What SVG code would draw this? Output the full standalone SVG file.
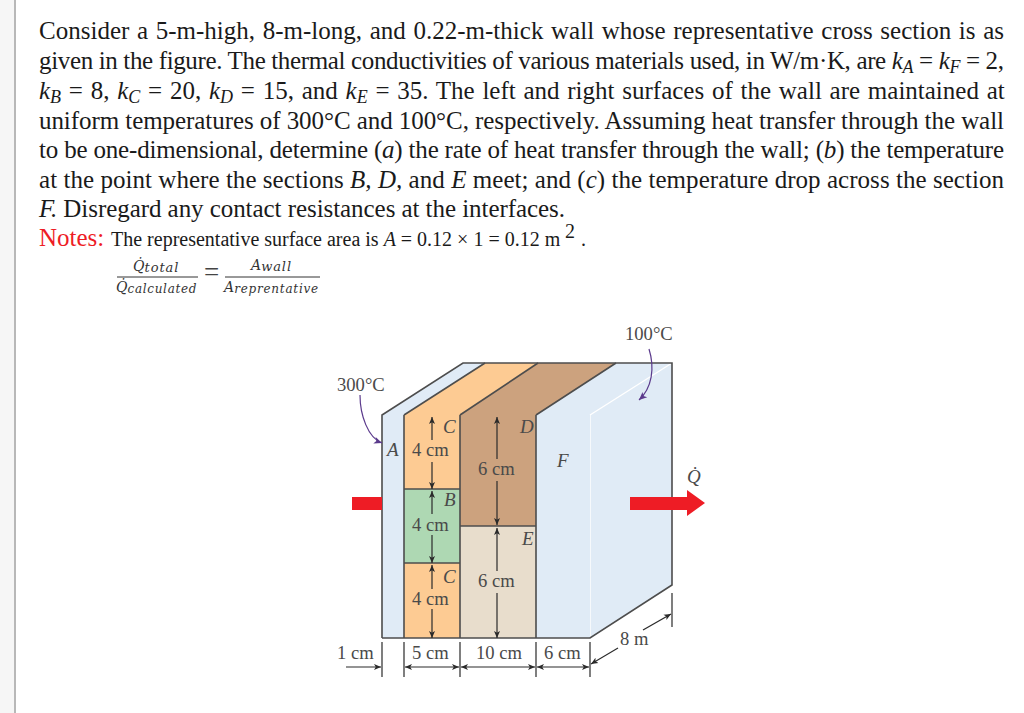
<svg xmlns="http://www.w3.org/2000/svg" width="1024" height="713" viewBox="0 0 1024 713">
<defs>
<marker id="ah" markerWidth="8" markerHeight="8" refX="7" refY="3.5" orient="auto-start-reverse" markerUnits="userSpaceOnUse"><path d="M0,0.5 L7,3.5 L0,6.5 L1.8,3.5 Z" fill="#2a2a2a"/></marker>
<marker id="pa" markerWidth="9" markerHeight="9" refX="8" refY="4" orient="auto" markerUnits="userSpaceOnUse"><path d="M0,0.5 L8,4 L0,7.5 L2,4 Z" fill="#5b3a8c"/></marker>
</defs>
<style>
text{font-family:"Liberation Serif","Times New Roman",serif}
.p{font-size:25px;fill:#1a1a1a}
.i{font-style:italic}
.s{font-size:18px}
.n{font-size:20px;fill:#1a1a1a}
.m{font-family:"DejaVu Serif",serif;font-style:italic;fill:#333}
.l{font-size:18.6px;fill:#4a4a4a}
.t{font-size:19px;font-style:italic;fill:#4a4a4a}
.e{stroke:#4d4d4d;stroke-width:1.6;fill:none}
.d{stroke:#2a2a2a;stroke-width:1.2;fill:none}
.a{stroke:#2a2a2a;stroke-width:1.2;fill:none;marker-start:url(#ah);marker-end:url(#ah)}
.o{stroke:#2a2a2a;stroke-width:1.2;fill:none;marker-end:url(#ah)}
.c{stroke:#5b3a8c;stroke-width:1.2;fill:none;marker-end:url(#pa)}
</style>
<rect width="1024" height="713" fill="#ffffff"/>
<rect x="0" y="0" width="14" height="713" fill="#f6f6f6"/>
<rect x="14" y="0" width="2" height="713" fill="#b8b8b8"/>
<g id="problem-text">
<text class="p" x="39" y="39" word-spacing="1.3" textLength="965">Consider a 5-m-high, 8-m-long, and 0.22-m-thick wall whose representative cross section is as</text>
<text class="p" x="39" y="69" textLength="965">given in the figure. The thermal conductivities of various materials used, in W/m·K, are <tspan class="i">k</tspan><tspan class="i s" dy="4">A</tspan><tspan dy="-4"> = </tspan><tspan class="i">k</tspan><tspan class="i s" dy="4">F</tspan><tspan dy="-4"> = 2,</tspan></text>
<text class="p" x="39" y="99" word-spacing="1.5"><tspan class="i">k</tspan><tspan class="i s" dy="4">B</tspan><tspan dy="-4"> = 8, </tspan><tspan class="i">k</tspan><tspan class="i s" dy="4">C</tspan><tspan dy="-4"> = 20, </tspan><tspan class="i">k</tspan><tspan class="i s" dy="4">D</tspan><tspan dy="-4"> = 15, and </tspan><tspan class="i">k</tspan><tspan class="i s" dy="4">E</tspan><tspan dy="-4"> = 35. The left and right surfaces of the wall are maintained at</tspan></text>
<text class="p" x="39" y="129" textLength="965">uniform temperatures of 300°C and 100°C, respectively. Assuming heat transfer through the wall</text>
<text class="p" x="39" y="158" textLength="965">to be one-dimensional, determine (<tspan class="i">a</tspan>) the rate of heat transfer through the wall; (<tspan class="i">b</tspan>) the temperature</text>
<text class="p" x="39" y="188" textLength="965">at the point where the sections <tspan class="i">B, D,</tspan> and <tspan class="i">E</tspan> meet; and (<tspan class="i">c</tspan>) the temperature drop across the section</text>
<text class="p" x="39" y="217" textLength="526"><tspan class="i">F.</tspan> Disregard any contact resistances at the interfaces.</text>
<text x="39" y="246" font-size="25" fill="#ee1c25">Notes:</text>
<text class="n" x="111" y="246">The representative surface area is <tspan class="i">A</tspan> = 0.12 × 1 = 0.12 m</text>
<text class="n" x="565" y="238">2</text>
<text class="n" x="581" y="246">.</text>
<text class="m" x="133" y="271" font-size="14">Q̇<tspan font-size="13" dy="1" textLength="34">total</tspan></text>
<text class="m" x="116" y="292" font-size="14">Q̇<tspan font-size="12" dy="1" textLength="69">calculated</tspan></text>
<text class="m" x="251" y="270" font-size="14">A<tspan font-size="13" dy="1" textLength="30">wall</tspan></text>
<text class="m" x="224" y="292" font-size="14">A<tspan font-size="12" dy="1" textLength="84">reprentative</tspan></text>
<text x="204" y="281" font-size="27" fill="#444">=</text>
<path d="M117 277H198M225 277H320" stroke="#333" stroke-width="1" fill="none"/>
</g>
<g id="wall-box">
<polygon points="382,415 463,363 672,363 590,415" fill="#e0ebf6"/>
<polygon points="590,415 672,363 672,585 590,638" fill="#e0ebf6"/>
<path d="M590 415L672 363M590 415V638" stroke="#ffffff" stroke-width="1.4" fill="none"/>
</g>
<g id="section-A"><rect x="382" y="415" width="22" height="223" fill="#e0ebf6"/><text class="t" x="387" y="456">A</text></g>
<g id="section-C-top"><polygon points="404,415 485,363 538,363 460,415" fill="#fdcb93"/><rect x="404" y="415" width="56" height="74" fill="#fdcb93"/><text class="t" x="443" y="433">C</text></g>
<g id="section-B"><rect x="404" y="489" width="56" height="74" fill="#aed8b3"/><text class="t" x="444" y="506">B</text></g>
<g id="section-C-bottom"><rect x="404" y="563" width="56" height="75" fill="#fdcb93"/><text class="t" x="443" y="583">C</text></g>
<g id="section-D"><polygon points="460,415 538,363 616,363 536,415" fill="#cca27e"/><rect x="460" y="415" width="76" height="111" fill="#cca27e"/><text class="t" x="520" y="433">D</text></g>
<g id="section-E"><rect x="460" y="526" width="76" height="112" fill="#e8ddcc"/><text class="t" x="522" y="545">E</text></g>
<g id="section-F"><rect x="536" y="415" width="54" height="223" fill="#e0ebf6"/><text class="t" x="557" y="467">F</text></g>
<g id="wall-edges">
<path class="e" d="M382 638V415L463 363H672V585L590 638H382"/>
<path class="e" d="M404 415V638M460 415V638M536 415V638M404 489H460M404 563H460M460 526H536M404 415L485 363M460 415L538 363M536 415L616 363"/>
</g>
<g id="connectors">
<path class="c" d="M360 395C360 415 368 438 382 443"/>
<path class="c" d="M649 349C655 368 652 388 639 400"/>
<path class="o" d="M432 440V417"/><path class="o" d="M432 462V489"/>
<path class="o" d="M432 514V491"/><path class="o" d="M432 535V563"/>
<path class="o" d="M432 589V565"/><path class="o" d="M432 609V638"/>
<path class="o" d="M497 459V417"/><path class="o" d="M497 481V525"/>
<path class="o" d="M497 571V528"/><path class="o" d="M497 593V638"/>
<path class="o" d="M346 667H381"/>
<path class="a" d="M405 667H459"/><path class="a" d="M461 667H535"/><path class="a" d="M537 667H589"/>
<path class="d" d="M382 642V677M404 642V677M460 642V677M536 642V677M590 642V677M672 593V627"/>
<path class="o" d="M618 648L591 664"/>
<path class="o" d="M643 630L671 614"/>
<polygon points="352,497 382,497 382,510 352,510" fill="#ee1c25"/>
<polygon points="630,497 687,497 687,490 705,503 687,516 687,510 630,510" fill="#ee1c25"/>
</g>
<g id="labels">
<text class="l" x="337" y="391">300°C</text>
<text class="l" x="625" y="340">100°C</text>
<text class="l" x="412" y="456">4 cm</text>
<text class="l" x="412" y="531">4 cm</text>
<text class="l" x="412" y="605">4 cm</text>
<text class="l" x="478" y="475">6 cm</text>
<text class="l" x="478" y="587">6 cm</text>
<text class="l" x="337" y="659">1 cm</text>
<text class="l" x="412" y="659">5 cm</text>
<text class="l" x="476" y="659">10 cm</text>
<text class="l" x="544" y="659">6 cm</text>
<text class="l" x="620" y="645">8 m</text>
<text class="t" x="687" y="483" font-size="22">Q̇</text>
</g>
</svg>
